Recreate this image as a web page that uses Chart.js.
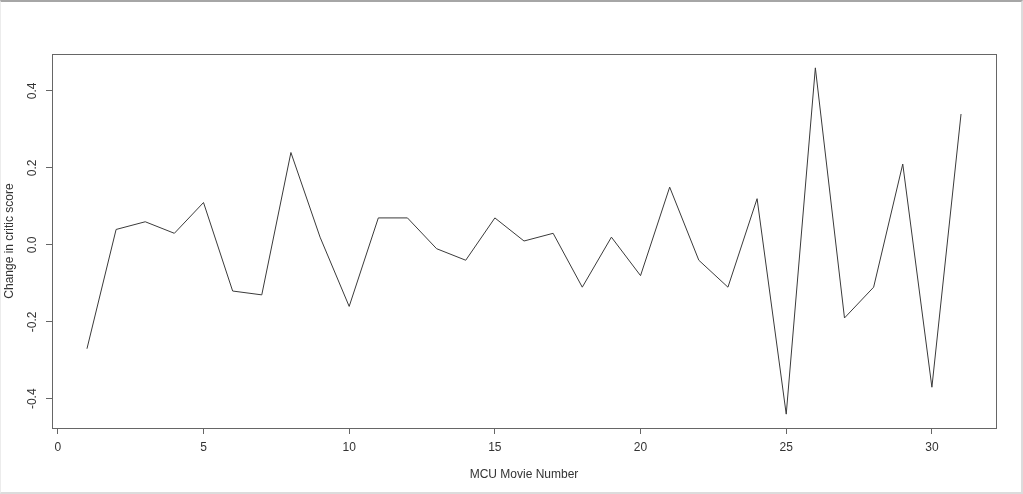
<!DOCTYPE html>
<html>
<head>
<meta charset="utf-8">
<script src="https://cdn.jsdelivr.net/npm/chart.js@4/dist/chart.umd.min.js"></script>
<style>
  html, body { margin: 0; padding: 0; background: #fff; }
  #wrap { position: relative; width: 1023px; height: 494px; }
  #frame {
    position: absolute; left: 0; top: 0; right: 0; bottom: 0;
    border-top: 2px solid #a6a6a6;
    border-left: 1px solid #ececec;
    border-right: 2px solid #dcdcdc;
    border-bottom: 2px solid #dcdcdc;
    pointer-events: none;
  }
</style>
</head>
<body>
<div id="wrap">
  <canvas id="chart" width="1023" height="494"></canvas>
  <div id="frame"></div>
</div>
<script>
// movie number 1..31
const movieNumbers = [1, 2, 3, 4, 5, 6, 7, 8, 9, 10, 11, 12, 13, 14, 15, 16,
  17, 18, 19, 20, 21, 22, 23, 24, 25, 26, 27, 28, 29, 30, 31];
// change in critic score
const scoreChange = [-0.27, 0.04, 0.06, 0.03, 0.11, -0.12, -0.13, 0.24, 0.02, -0.16,
  0.07, 0.07, -0.01, -0.04, 0.07, 0.01, 0.03, -0.11, 0.02, -0.08,
  0.15, -0.04, -0.11, 0.12, -0.44, 0.46, -0.19, -0.11, 0.21, -0.37, 0.34];

const xTicks = [0, 5, 10, 15, 20, 25, 30];
const yTicks = [-0.4, -0.2, 0.0, 0.2, 0.4];
const yTickLabels = ['-0.4', '-0.2', '0.0', '0.2', '0.4'];

const axisColor = '#666';
const textColor = '#333';
const fontFamily = '"Liberation Sans", Arial, sans-serif';

const points = movieNumbers.map((n, i) => ({ x: n, y: scoreChange[i] }));

// R style box + rotated y tick labels
const boxPlugin = {
  id: 'box',
  afterDraw(chart) {
    const ctx = chart.ctx;
    const a = chart.chartArea;
    ctx.save();
    ctx.strokeStyle = axisColor;
    ctx.lineWidth = 1;
    ctx.strokeRect(Math.round(a.left) + 0.5, Math.round(a.top) + 0.5,
      Math.round(a.right - a.left), Math.round(a.bottom - a.top));

    const ys = chart.scales.y;
    ctx.fillStyle = textColor;
    ctx.font = '12px ' + fontFamily;
    ctx.textAlign = 'center';
    ctx.textBaseline = 'middle';
    yTicks.forEach((v, i) => {
      ctx.save();
      ctx.translate(33, ys.getPixelForValue(v));
      ctx.rotate(-Math.PI / 2);
      ctx.fillText(yTickLabels[i], 0, 0);
      ctx.restore();
    });
    ctx.restore();
  }
};

new Chart(document.getElementById('chart'), {
  type: 'line',
  data: {
    datasets: [{
      data: points,
      borderColor: '#3a3a3a',
      borderWidth: 1,
      pointRadius: 0,
      tension: 0,
      fill: false
    }]
  },
  options: {
    responsive: false,
    animation: false,
    devicePixelRatio: 1,
    layout: { padding: { left: 0, top: 54, right: 27, bottom: 0 } },
    plugins: { legend: { display: false }, tooltip: { enabled: false } },
    scales: {
      x: {
        type: 'linear',
        min: -0.2,
        max: 32.2,
        afterBuildTicks: (scale) => { scale.ticks = xTicks.map(v => ({ value: v })); },
        afterFit: (scale) => { scale.height = 66; },
        grid: { display: true, drawOnChartArea: false, drawTicks: true, tickLength: 6, color: axisColor },
        border: { display: false },
        ticks: {
          color: textColor,
          font: { family: fontFamily, size: 12 },
          padding: 6,
          maxRotation: 0,
          minRotation: 0,
          callback: (v) => String(v)
        },
        title: {
          display: true,
          text: 'MCU Movie Number',
          color: textColor,
          font: { family: fontFamily, size: 12 },
          padding: { top: 0, bottom: 12 }
        }
      },
      y: {
        type: 'linear',
        min: -0.476,
        max: 0.496,
        afterBuildTicks: (scale) => { scale.ticks = yTicks.map(v => ({ value: v })); },
        afterFit: (scale) => { scale.width = 52; },
        grid: { display: true, drawOnChartArea: false, drawTicks: true, tickLength: 6, color: axisColor },
        border: { display: false },
        ticks: { display: false },
        title: {
          display: true,
          text: 'Change in critic score',
          color: textColor,
          font: { family: fontFamily, size: 12 },
          padding: { top: 2, bottom: 0 }
        }
      }
    }
  },
  plugins: [boxPlugin]
});
</script>
</body>
</html>
